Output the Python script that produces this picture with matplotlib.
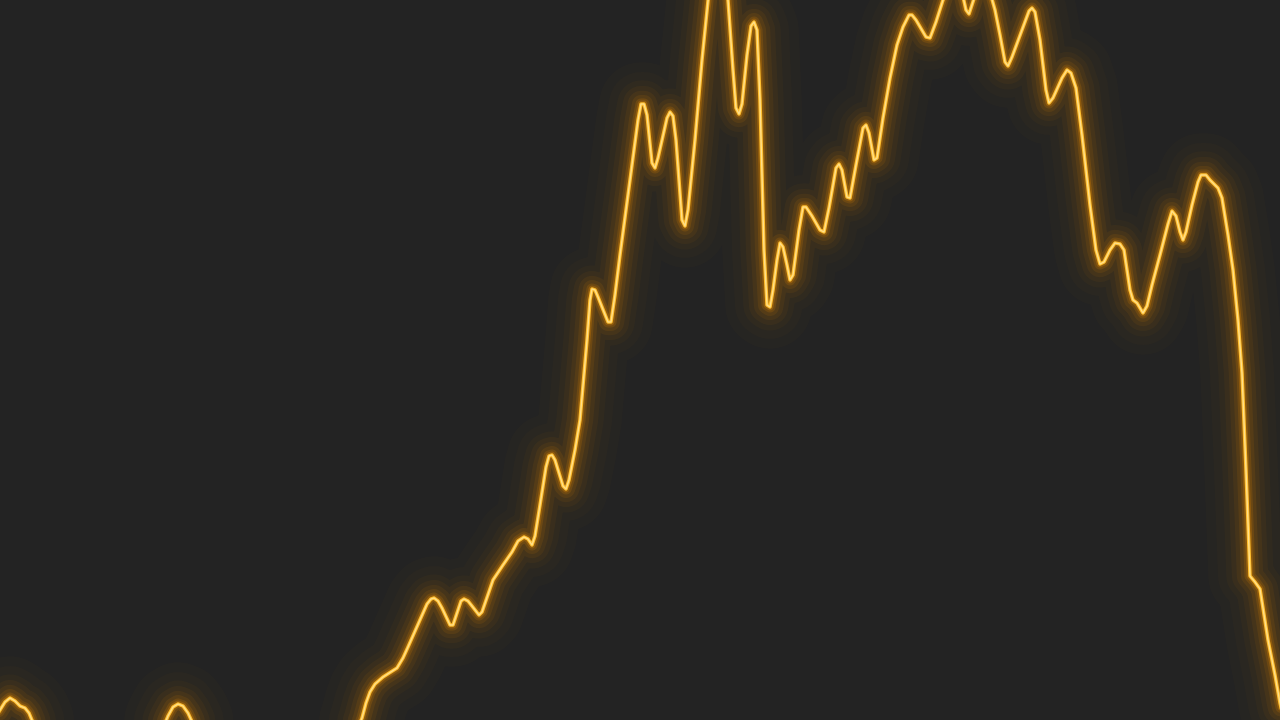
import matplotlib.pyplot as plt
import numpy as np

# (position, depth from the top edge) pairs, left to right
trace = [
    (-5, 718), (0, 710), (5, 702), (10, 698), (15, 701), (20, 706), (25, 708),
    (29, 713), (34, 725), (60, 780), (140, 780), (163, 728), (168, 716),
    (173, 707), (178, 704), (183, 706), (188, 713), (194, 726), (220, 780),
    (330, 780), (358, 728), (362, 718), (366, 703), (370, 692), (375, 684),
    (383, 677), (397, 668), (403, 658), (408, 647), (420, 620), (427, 604),
    (431, 599), (434, 598), (438, 601), (442, 608), (450, 625), (453, 625),
    (457, 613), (461, 601), (464, 599), (468, 601), (472, 606), (479, 615),
    (482, 612), (493, 580), (503, 565), (512, 552), (518, 541), (524, 537),
    (528, 539), (532, 545), (535, 536), (540, 505), (546, 467), (549, 456),
    (552, 455), (555, 460), (563, 486), (566, 489), (569, 480), (575, 450),
    (580, 420), (587, 340), (590, 300), (592, 289), (595, 290), (598, 297),
    (608, 322), (611, 322), (615, 295), (620, 255), (630, 180), (638, 120),
    (641, 104), (644, 104), (647, 115), (652, 163), (655, 168), (658, 158),
    (667, 118), (670, 112), (673, 116), (676, 140), (682, 220), (685, 226),
    (688, 210), (695, 140), (702, 60), (708, 0), (713, -25), (718, -33),
    (723, -25), (728, 0), (733, 70), (736, 108), (739, 114), (742, 104),
    (747, 55), (751, 26), (754, 22), (757, 30), (760, 100), (764, 250),
    (767, 305), (770, 307), (773, 290), (777, 260), (780, 243), (783, 247),
    (787, 265), (790, 280), (793, 275), (799, 230), (803, 207), (806, 207),
    (812, 216), (820, 230), (824, 232), (829, 208), (836, 168), (839, 164),
    (842, 170), (847, 197), (850, 198), (856, 165), (863, 128), (866, 125),
    (869, 133), (874, 160), (877, 158), (883, 118), (890, 78), (897, 45),
    (903, 27), (909, 15), (912, 15), (916, 20), (926, 37), (930, 38),
    (936, 22), (943, 0), (950, -14), (956, -18), (962, -8), (966, 10),
    (969, 14), (972, 5), (978, -14), (984, -18), (990, -8), (995, 10),
    (1000, 35), (1005, 62), (1008, 66), (1012, 57), (1022, 30), (1029, 11),
    (1032, 8), (1035, 12), (1040, 40), (1046, 90), (1049, 103), (1053, 98),
    (1062, 78), (1067, 70), (1071, 73), (1076, 88), (1082, 135), (1090, 205),
    (1096, 250), (1100, 264), (1104, 262), (1110, 250), (1115, 243),
    (1120, 244), (1124, 250), (1130, 290), (1133, 300), (1137, 303),
    (1143, 313), (1147, 306), (1152, 285), (1160, 255), (1168, 224),
    (1172, 211), (1176, 216), (1180, 232), (1183, 240), (1186, 232),
    (1192, 205), (1198, 182), (1201, 175), (1206, 175), (1210, 180),
    (1218, 188), (1222, 198), (1228, 235), (1233, 270), (1238, 320),
    (1242, 373), (1246, 470), (1250, 576), (1255, 582), (1260, 589),
    (1268, 640), (1275, 675), (1280, 703), (1285, 725),
]

pos = np.array([p for p, _ in trace])
level = 720 - np.array([d for _, d in trace])

bg = '#232323'
fig = plt.figure(figsize=(12.8, 7.2), dpi=100, facecolor=bg)
ax = fig.add_axes([0, 0, 1, 1])
ax.set_facecolor(bg)

# glow: wide faint strokes under a bright core
glow = [(60, 0.018), (46, 0.025), (34, 0.035), (26, 0.05), (19, 0.07),
        (13, 0.10), (8, 0.16), (5, 0.28)]
for lw, a in glow:
    ax.plot(pos, level, color='#e88a00', lw=lw, alpha=a,
            solid_joinstyle='round', solid_capstyle='round')
ax.plot(pos, level, color='#ffbe2e', lw=2.5, solid_joinstyle='round')
ax.plot(pos, level, color='#ffe08a', lw=1.0, solid_joinstyle='round')

ax.set_xlim(0, 1280)
ax.set_ylim(0, 720)
ax.axis('off')

fig.savefig('out.png', dpi=100, facecolor=bg)
